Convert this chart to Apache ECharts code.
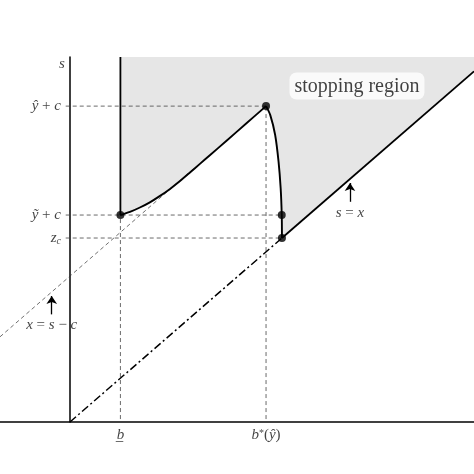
<!DOCTYPE html>
<html><head><meta charset="utf-8">
<script src="https://cdn.jsdelivr.net/npm/echarts@6/dist/echarts.min.js"></script>
<style>html,body{margin:0;padding:0;background:#fff}#c{width:474px;height:474px}</style>
</head><body><div id="c"></div>
<script>
// axis extents (data units)
const xRange = [-3.30, 19.06];
const sRange = [0, 19.84];
// key levels
const bLow = 2.38;      // b (underlined)
const bStar = 9.25;     // b*(ŷ)
const cShift = 7.93;    // c
const yHatC = 17.17;    // ŷ + c
const yTildeC = 11.25;  // ỹ + c
const zC = 10.0;        // z_c
// lower boundary of the stopping region, from (b, ỹ+c) to (b*, ŷ+c)
const boundaryCurve = [[2.38,11.25],[2.83,11.42],[3.30,11.66],[3.77,11.94],[4.25,12.29],[4.72,12.67],[5.19,13.10],[5.66,13.56],[6.13,14.03],[6.60,14.50],[7.40,15.30],[8.30,16.21],[9.25,17.17]];
// right boundary dropping from (b*, ŷ+c) down to (z_c, z_c)
const dropCurve = [[9.25,17.17],[9.45,16.68],[9.68,15.60],[9.84,14.15],[9.94,12.70],[9.99,11.25],[10.0,10.0]];
// diagonal s = x
const diagDashDot = [[0,0],[10,10]];
const diagSolid = [[10,10],[19.06,19.06]];
// x = s - c
const lineSminusC = [[-3.30,4.63],[5.9,13.83]];
// highlighted points
const keyPoints = [[2.38,11.25],[9.25,17.17],[9.99,11.25],[10.0,10.0]];
// guide lines
const hGuides = [[yHatC, bStar],[yTildeC, 9.99],[zC, zC]];
const vGuides = [[bLow, yTildeC],[bStar, yHatC]];
// arrows
const arrowSx = [[13.21,11.97],[13.21,12.99]];
const arrowXsc = [[-0.86,5.85],[-0.86,6.85]];

const serif = "'Liberation Serif','DejaVu Serif',serif";
const polygon = [[bLow, sRange[1]],[xRange[1], sRange[1]],[xRange[1], xRange[1]]]
  .concat(dropCurve.slice().reverse())
  .concat(boundaryCurve.slice().reverse().slice(1));

const dashStyle = {color:'#444', width:0.8, type:[4,3]};
const series = [];
series.push({
  type:'custom', silent:true, z:1,
  data:[polygon[0]],
  renderItem:(params, api) => ({
    type:'polygon',
    shape:{points: polygon.map(p => api.coord(p))},
    style:{fill:'#e6e6e6'}
  })
});
hGuides.forEach(g => series.push({type:'line', z:2, symbol:'none', data:[[-0.2,g[0]],[g[1],g[0]]], lineStyle:dashStyle}));
vGuides.forEach(g => series.push({type:'line', z:2, symbol:'none', data:[[g[0],-0.22],[g[0],g[1]]], lineStyle:dashStyle}));
series.push({type:'line', z:2, symbol:'none', data:lineSminusC, lineStyle:{color:'#333', width:0.7, type:[4,3]}});
series.push({type:'line', z:3, symbol:'none', data:diagDashDot, lineStyle:{color:'#000', width:1.5, type:[8,3,2,3]}});
series.push({type:'line', z:3, symbol:'none', data:diagSolid, lineStyle:{color:'#000', width:1.8}});
series.push({type:'line', z:3, symbol:'none', data:[[bLow, yTildeC],[bLow, sRange[1]]], lineStyle:{color:'#000', width:1.8}});
series.push({type:'line', z:3, symbol:'none', smooth:0.3, data:boundaryCurve, lineStyle:{color:'#000', width:1.9, join:'round'}});
series.push({type:'line', z:3, symbol:'none', smooth:0.3, data:dropCurve, lineStyle:{color:'#000', width:1.9, join:'round'}});
series.push({type:'scatter', z:5, symbol:'circle', symbolSize:8, itemStyle:{color:'#000'}, data:keyPoints});
// arrows
series.push({
  type:'line', data:[], symbol:'none',
  markLine:{silent:true, symbol:['none','arrow'], symbolSize:8, label:{show:false},
    lineStyle:{color:'#000', width:1.3, type:'solid'},
    data:[[{coord:arrowSx[0]},{coord:arrowSx[1]}],[{coord:arrowXsc[0]},{coord:arrowXsc[1]}]]}
});
// text labels
const lbl = (x, s, fmt, pos, extra) => ({value:[x,s], label:Object.assign({show:true, formatter:fmt, position:pos}, extra||{})});
const rich = {
  i:{fontFamily:serif, fontStyle:'italic', fontSize:15, color:'#111'},
  n:{fontFamily:serif, fontSize:15, color:'#111'},
  sub:{fontFamily:serif, fontStyle:'italic', fontSize:10, color:'#111', verticalAlign:'bottom', padding:[6,0,0,0]},
  sup:{fontFamily:serif, fontSize:10, color:'#111', verticalAlign:'top', padding:[0,0,5,0]}
};
series.push({
  type:'scatter', z:6, symbolSize:0, silent:true,
  label:{rich:rich},
  data:[
    lbl(0, sRange[1], '{i|s}', 'left', {distance:5, offset:[0,7]}),
    lbl(0, yHatC, '{i|ŷ}{n| + }{i|c}', 'left', {distance:9}),
    lbl(0, yTildeC, '{i|ỹ}{n| + }{i|c}', 'left', {distance:9}),
    lbl(0, zC, '{i|z}{sub|c}', 'left', {distance:9}),
    lbl(bLow, 0, '{i|b\u0332}', 'bottom', {distance:6}),
    lbl(bStar, 0, '{i|b}{sup|*}{n|(}{i|ŷ}{n|)}', 'bottom', {distance:6}),
    lbl(arrowSx[0][0], arrowSx[0][1], '{i|s}{n| = }{i|x}', 'bottom', {distance:4}),
    lbl(arrowXsc[0][0], arrowXsc[0][1], '{i|x}{n| = }{i|s}{n| − }{i|c}', 'bottom', {distance:3}),
    lbl(13.54, 18.26, 'stopping region', 'inside', {fontFamily:serif, fontSize:20, color:'#111',
      backgroundColor:'#fff', borderRadius:7, padding:[4,5,3,5]})
  ]
});

const chart = echarts.init(document.getElementById('c'));
chart.setOption({
  animation:false,
  grid:{left:0, right:0, top:57, bottom:52},
  xAxis:{type:'value', min:xRange[0], max:xRange[1], axisLine:{lineStyle:{color:'#000', width:1.5}},
    axisTick:{show:false}, axisLabel:{show:false}, splitLine:{show:false}},
  yAxis:{type:'value', min:sRange[0], max:sRange[1], axisLine:{show:true, onZero:true, lineStyle:{color:'#000', width:1.5}},
    axisTick:{show:false}, axisLabel:{show:false}, splitLine:{show:false}},
  series:series
});
</script></body></html>
